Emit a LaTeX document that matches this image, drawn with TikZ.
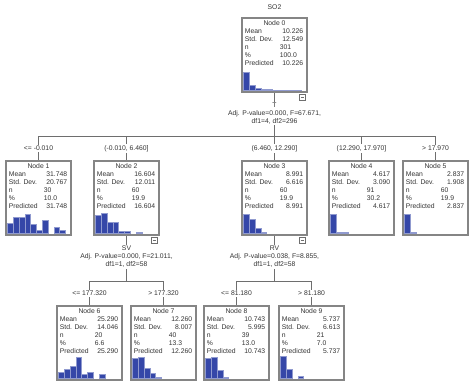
\documentclass[tikz,border=0pt]{standalone}
\usepackage{fontspec}
\setmainfont{Liberation Sans}
\usetikzlibrary{calc, backgrounds}
\definecolor{cbox}{HTML}{858585}
\definecolor{cline}{HTML}{6E6E6E}
\definecolor{ctext}{HTML}{333333}
\definecolor{cbar}{HTML}{3547A8}
\tikzset{
  every picture/.style={line width=0.9pt},
  nodebox/.style={draw=cbox, fill=white, line width=1.1pt, minimum width=65pt, minimum height=74pt, inner sep=0pt},
  txt/.style={font=\fontsize{6.8}{8}\selectfont, text=ctext, inner sep=0pt},
  split/.style={txt, align=center, fill=white, inner sep=1pt},
  cut/.style={txt, fill=white, inner sep=1.5pt},
  link/.style={draw=cline, line width=0.9pt},
  minusbox/.style={draw=cline, fill=white, line width=0.6pt, minimum size=6pt, inner sep=0pt,
    path picture={\draw[line width=0.6pt] ([xshift=1.3pt]path picture bounding box.west) -- ([xshift=-1.3pt]path picture bounding box.east);}},
  bar/.style={fill=cbar, draw=cbar!55!white, line width=0.4pt},
}

\begin{document}
\begin{tikzpicture}[x=1pt, y=-1pt]
  \useasboundingbox (0,0) rectangle (474,387);
  \node[txt] (title) at (274.5,7) {SO2};
  % ---------- tree nodes ----------
  \foreach \k/\cx/\ty/\mn/\sd/\nn/\pc/\bars in {
    0/274.5/18/10.226/12.549/301/100.0/{18,5,2.5,1.5,1,.8,.6,.6,.5,.5},
    1/38.5/161/31.748/20.767/30/10.0/{10,16,16,19,9,3,13,0,6,3},
    2/126.5/161/16.604/12.011/60/19.9/{18,20,11,11,2,2,0,1},
    3/274.5/161/8.991/6.616/60/19.9/{19,14,5,1.5},
    4/361.5/161/4.617/3.090/91/30.2/{19,1.5,1},
    5/435.5/161/2.837/1.908/60/19.9/{19,1},
    6/89.5/306/25.290/14.046/20/6.6/{6,9,12,21,4,6,0,4},
    7/163.5/306/12.260/8.007/40/13.3/{20,21,10,5,1.5},
    8/236.5/306/10.743/5.995/39/13.0/{20,21,8,1.5},
    9/311.5/306/5.737/6.613/21/7.0/{22,9,0,2.5}}{
    \node[nodebox] (n\k) at (\cx,\ty+37) {};
    \node[txt, anchor=base] (n\k-head) at ($(n\k.north)+(0,7.9)$) {Node \k};
    % row labels, values right aligned, n and % in their own column
    \foreach \lab/\val/\pos [count=\r] in {Mean/\mn/r, Std. Dev./\sd/r, n/\nn/l, \%/\pc/l, Predicted/\mn/r}{
      \node[txt, anchor=base west] (n\k-l\r) at ($(n\k.north west)+(3,{7.9+8*\r})$) {\lab};
      \if\pos r
        \node[txt, anchor=base east] (n\k-v\r) at ($(n\k.north east)+(-4,{7.9+8*\r})$) {\val};
      \else
        \node[txt, anchor=base west] (n\k-v\r) at ($(n\k.north west)+(38,{7.9+8*\r})$) {\val};
      \fi
    }
    % histogram of the node
    \foreach \h [count=\i] in \bars{
      \ifdim\h pt>0pt
        \draw[bar] ($(n\k.south west)+({2+5.8*\i-5.8},-2)$) rectangle ++(5.8,-\h);
      \fi
    }
  }
  \foreach \k in {0,2,3}
    \node[minusbox] (m\k) at ($(n\k.south east)+(-5,5)$) {};
  % ---------- connectors ----------
  \coordinate (s0) at (274.5,136);
  \coordinate (s2) at (126.5,281);
  \coordinate (s3) at (274.5,281);
  \begin{scope}[on background layer]
    \draw[link] (n0.south) -- (s0);
    \foreach \c in {1,...,5} \draw[link] (s0) -| (n\c.north);
    \draw[link] (n2.south) -- (s2);
    \foreach \c in {6,7} \draw[link] (s2) -| (n\c.north);
    \draw[link] (n3.south) -- (s3);
    \foreach \c in {8,9} \draw[link] (s3) -| (n\c.north);
  \end{scope}
  % split labels
  \node[split] (t0) at (274.5,113.5) {T\\Adj. P-value=0.000, F=67.671,\\df1=4, df2=296};
  \node[split] (t2) at (126.5,257) {SV\\Adj. P-value=0.000, F=21.011,\\df1=1, df2=58};
  \node[split] (t3) at (274.5,257) {RV\\Adj. P-value=0.038, F=8.855,\\df1=1, df2=58};
  % branch labels
  \foreach \c/\txt in {1/{<= -0.010}, 2/{(-0.010, 6.460]}, 3/{(6.460, 12.290]}, 4/{(12.290, 17.970]},
      5/{> 17.970}, 6/{<= 177.320}, 7/{> 177.320}, 8/{<= 81.180}, 9/{> 81.180}}
    \node[cut] (c\c) at ([yshift=12pt]n\c.north) {\txt};
\end{tikzpicture}
\end{document}
